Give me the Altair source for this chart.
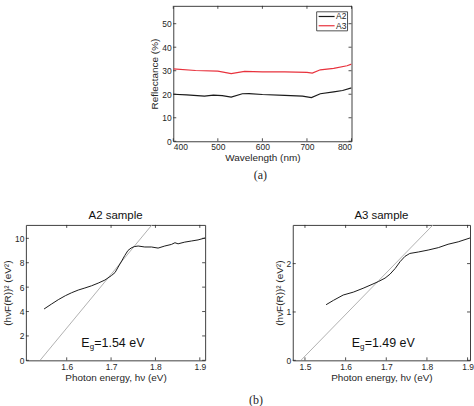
import altair as alt
import pandas as pd

# ---- (a) diffuse reflectance spectra ----
wavelength_a2 = [400, 430, 470, 490, 510, 530, 555, 570, 600, 650, 690, 710, 730, 760, 780, 800]
refl_a2 = [20.0, 19.7, 19.2, 19.6, 19.4, 18.8, 20.2, 20.3, 19.9, 19.5, 19.2, 18.6, 20.2, 21.0, 21.6, 22.7]
wavelength_a3 = [400, 450, 500, 530, 560, 600, 650, 700, 712, 730, 760, 790, 800]
refl_a3 = [30.8, 30.1, 29.8, 28.8, 29.7, 29.5, 29.5, 29.3, 29.0, 30.4, 31.0, 32.1, 32.8]
series_names = ["A2", "A3"]
series_colors = ["#1a1a1a", "#e8323d"]

# ---- (b) Tauc plots ----
energy_a2 = [1.549, 1.566, 1.581, 1.597, 1.611, 1.626, 1.641, 1.656, 1.671, 1.686,
             1.701, 1.709, 1.716, 1.724, 1.731, 1.738, 1.745, 1.752, 1.761, 1.776,
             1.791, 1.806, 1.821, 1.836, 1.844, 1.851, 1.866, 1.881, 1.896, 1.912]
tauc_a2 = [4.21, 4.62, 4.97, 5.30, 5.54, 5.76, 5.93, 6.11, 6.33, 6.58,
           6.95, 7.20, 7.65, 8.15, 8.60, 9.00, 9.20, 9.32, 9.37, 9.29,
           9.29, 9.20, 9.37, 9.50, 9.64, 9.55, 9.69, 9.78, 9.87, 10.03]
energy_a3 = [1.552, 1.570, 1.594, 1.619, 1.643, 1.665, 1.681, 1.697, 1.709, 1.722,
             1.734, 1.746, 1.758, 1.779, 1.803, 1.828, 1.852, 1.877, 1.906]
tauc_a3 = [1.15, 1.24, 1.35, 1.41, 1.49, 1.57, 1.63, 1.70, 1.78, 1.90,
           2.04, 2.15, 2.21, 2.24, 2.28, 2.33, 2.40, 2.45, 2.53]

# linear extrapolations to the energy axis (band gap)
eg_a2 = 1.54
eg_a3 = 1.49
tangent_a2_x = [eg_a2, 1.792]
tangent_a2_y = [0, 11.1]
tangent_a3_x = [eg_a3, 1.815]
tangent_a3_y = [0, 2.8]

# axis tick values
refl_xticks = [400, 500, 600, 700, 800]
refl_yticks = [0, 10, 20, 30, 40, 50]
a2_xticks = [1.6, 1.7, 1.8, 1.9]
a2_yticks = [0, 2, 4, 6, 8, 10]
a3_xticks = [1.5, 1.6, 1.7, 1.8, 1.9]
a3_yticks = [0, 1, 2]

FONT = "Liberation Sans"
INK = "#262626"
TICK_LEN = 3


def inner_ticks(xfield, yfield, xvals, yvals, w, h, xenc, yenc):
    """Short inward ticks on all four sides of the box."""
    tx = pd.DataFrame({xfield: xvals})
    ty = pd.DataFrame({yfield: yvals})
    base_x = alt.Chart(tx).mark_rule(color=INK, strokeWidth=0.8)
    base_y = alt.Chart(ty).mark_rule(color=INK, strokeWidth=0.8)
    return [
        base_x.encode(x=xenc, y=alt.value(h), y2=alt.value(h - TICK_LEN)),
        base_x.encode(x=xenc, y=alt.value(0), y2=alt.value(TICK_LEN)),
        base_y.encode(y=yenc, x=alt.value(0), x2=alt.value(TICK_LEN)),
        base_y.encode(y=yenc, x=alt.value(w), x2=alt.value(w - TICK_LEN)),
    ]


def boxed_legend(names, colors, w):
    """Small framed key in the upper-right corner of the plot box."""
    right, top, row_h = w - 4, 6, 9.3
    left = right - 31
    one = alt.Chart(pd.DataFrame({"k": [0]}))
    parts = [one.mark_rect(fill="white", stroke=INK, strokeWidth=0.8).encode(
        x=alt.value(left), x2=alt.value(right),
        y=alt.value(top), y2=alt.value(top + 2 * row_h + 0.5))]
    for i, (name, col) in enumerate(zip(names, colors)):
        yy = top + 4.7 + i * row_h
        parts.append(one.mark_rule(color=col, strokeWidth=1.2).encode(
            x=alt.value(left + 2), x2=alt.value(left + 18), y=alt.value(yy)))
        parts.append(one.mark_text(text=name, font=FONT, fontSize=8.5, color=INK,
                                   align="left", baseline="middle").encode(
            x=alt.value(left + 19.5), y=alt.value(yy)))
    return parts


# ---------- panel (a) ----------
RW, RH = 179, 136
refl_df = pd.concat([
    pd.DataFrame({"wl": wavelength_a2, "R": refl_a2, "sample": series_names[0]}),
    pd.DataFrame({"wl": wavelength_a3, "R": refl_a3, "sample": series_names[1]}),
])
refl_x = alt.X("wl:Q", scale=alt.Scale(domain=[400, 800], nice=False, zero=False),
               axis=alt.Axis(values=refl_xticks, title="Wavelength (nm)", format="d",
                             labelPadding=1, titlePadding=2))
refl_y = alt.Y("R:Q", scale=alt.Scale(domain=[0, 57.6], nice=False),
               axis=alt.Axis(values=refl_yticks, title="Reflectance (%)", format="d"))
refl_lines = alt.Chart(refl_df).mark_line(strokeWidth=1.2, clip=True).encode(
    x=refl_x, y=refl_y,
    color=alt.Color("sample:N",
                    scale=alt.Scale(domain=series_names, range=series_colors),
                    legend=None),
)
refl_chart = alt.layer(
    refl_lines,
    *inner_ticks("wl", "R", refl_xticks, refl_yticks, RW, RH, refl_x, refl_y),
    *boxed_legend(series_names, series_colors, RW),
).properties(
    width=RW, height=RH,
    title=alt.TitleParams("(a)", orient="bottom", font="Liberation Serif",
                          fontSize=12, fontWeight="normal", color=INK, offset=7, dx=-2),
)

spacer = alt.Chart(pd.DataFrame({"s": [0]})).mark_point(opacity=0).encode(
    x=alt.value(0), y=alt.value(0)
).properties(width=123, height=10, view=alt.ViewBackground(stroke="transparent"))


# ---------- panel (b) ----------
def tauc_panel(title, ex, ty, tx_line, ty_line, xdom, ydom, xticks, yticks, w, eg,
               label_x, label_y):
    h = 136
    curve_df = pd.DataFrame({"E": ex, "T": ty})
    line_df = pd.DataFrame({"E": tx_line, "T": ty_line})
    xe = alt.X("E:Q", scale=alt.Scale(domain=xdom, nice=False, zero=False),
               axis=alt.Axis(values=xticks, title="Photon energy, hν (eV)", format=".1f",
                             labelPadding=2, titlePadding=2))
    ye = alt.Y("T:Q", scale=alt.Scale(domain=ydom, nice=False),
               axis=alt.Axis(values=yticks, title="(hνF(R))² (eV²)", format="d"))
    tangent = alt.Chart(line_df).mark_line(color="#a8a8a8", strokeWidth=0.9, clip=True).encode(
        x=xe, y=ye
    )
    curve = alt.Chart(curve_df).mark_line(color="#1a1a1a", strokeWidth=1.0, clip=True).encode(
        x=xe, y=ye
    )
    lab_df = pd.DataFrame({"E": [label_x], "T": [label_y]})
    lab = alt.Chart(lab_df)
    big = dict(font=FONT, fontSize=12.5, color="#111111", align="left", baseline="middle")
    t_e = lab.mark_text(text="E", **big).encode(x=xe, y=ye)
    t_g = lab.mark_text(text="g", font=FONT, fontSize=8, color="#111111", align="left",
                        baseline="middle", dx=8.4, dy=4).encode(x=xe, y=ye)
    t_v = lab.mark_text(text=f"={eg:.2f} eV", dx=13, **big).encode(x=xe, y=ye)
    return alt.layer(
        tangent, curve, t_e, t_g, t_v,
        *inner_ticks("E", "T", xticks, yticks, w, h, xe, ye)
    ).properties(
        width=w, height=h,
        title=alt.TitleParams(title, fontSize=11.5, fontWeight="normal", font=FONT,
                              color="#111111", offset=3),
    )


a2_chart = tauc_panel("A2 sample", energy_a2, tauc_a2, tangent_a2_x, tangent_a2_y,
                      [1.508, 1.912], [0, 11.1], a2_xticks, a2_yticks, 180, eg_a2,
                      1.633, 1.45)
a3_chart = tauc_panel("A3 sample", energy_a3, tauc_a3, tangent_a3_x, tangent_a3_y,
                      [1.47, 1.906], [0, 2.8], a3_xticks, a3_yticks, 178, eg_a3,
                      1.615, 0.36)

bottom_row = alt.hconcat(a2_chart, a3_chart, spacing=66).properties(
    title=alt.TitleParams("(b)", orient="bottom", font="Liberation Serif", fontSize=12,
                          fontWeight="normal", color=INK, anchor="middle", dx=18, offset=12)
)
top_row = alt.hconcat(spacer, refl_chart, spacing=0).resolve_scale(color="independent")

chart = alt.vconcat(top_row, bottom_row, spacing=28).resolve_scale(
    color="independent"
).properties(
    padding={"left": 2, "top": 1, "right": 0, "bottom": 0}
).configure_view(
    stroke="#404040", strokeWidth=1
).configure_axis(
    labelFont=FONT, titleFont=FONT, labelFontSize=8.5, titleFontSize=10,
    labelColor=INK, titleColor=INK, titleFontWeight="normal",
    domain=False, ticks=False, grid=False,
).configure_axisY(
    labelPadding=2, titlePadding=2
)

chart.save("out.html", embed_options={"renderer": "svg", "actions": False})
